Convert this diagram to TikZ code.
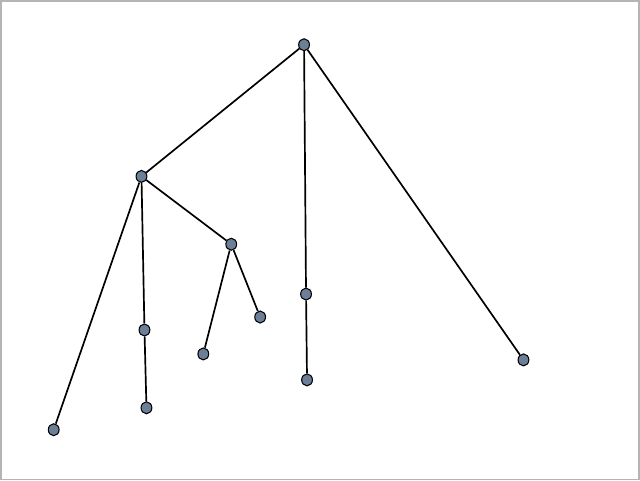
\documentclass[tikz,border=0pt]{standalone}
\usetikzlibrary{shapes.geometric}
\definecolor{nodefill}{HTML}{6B7F99}
\definecolor{frame}{HTML}{B4B4B4}
\tikzset{
	leaf/.style={ellipse, draw=black, fill=nodefill, line width=0.75pt, inner sep=0pt,
		minimum width=0.27cm, minimum height=0.3cm},
	branch/.style={line width=1.2pt, black}
}

\begin{document}
\begin{tikzpicture}[x=0.025cm, y=-0.025cm]
	\draw[frame, line width=1.2pt, fill=white] (0,0) rectangle (640,480);
	\useasboundingbox (0,0) rectangle (640,480);

	\node[leaf] (r) at (304,44) {};
	\node[leaf] (a) at (141,176) {};
	\node[leaf] (b) at (231,244) {};
	\node[leaf] (c) at (53,430) {};
	\node[leaf] (d) at (144,330) {};
	\node[leaf] (e) at (146,408) {};
	\node[leaf] (f) at (203,354) {};
	\node[leaf] (g) at (260,317) {};
	\node[leaf] (h) at (306,294) {};
	\node[leaf] (i) at (307,380) {};
	\node[leaf] (j) at (524,360) {};

	\draw[branch] (r) -- (a) -- (c);
	\draw[branch] (a) -- (d) -- (e);
	\draw[branch] (a) -- (b) -- (f);
	\draw[branch] (b) -- (g);
	\draw[branch] (r) -- (h) -- (i);
	\draw[branch] (r) -- (j);

\end{tikzpicture}
\end{document}
